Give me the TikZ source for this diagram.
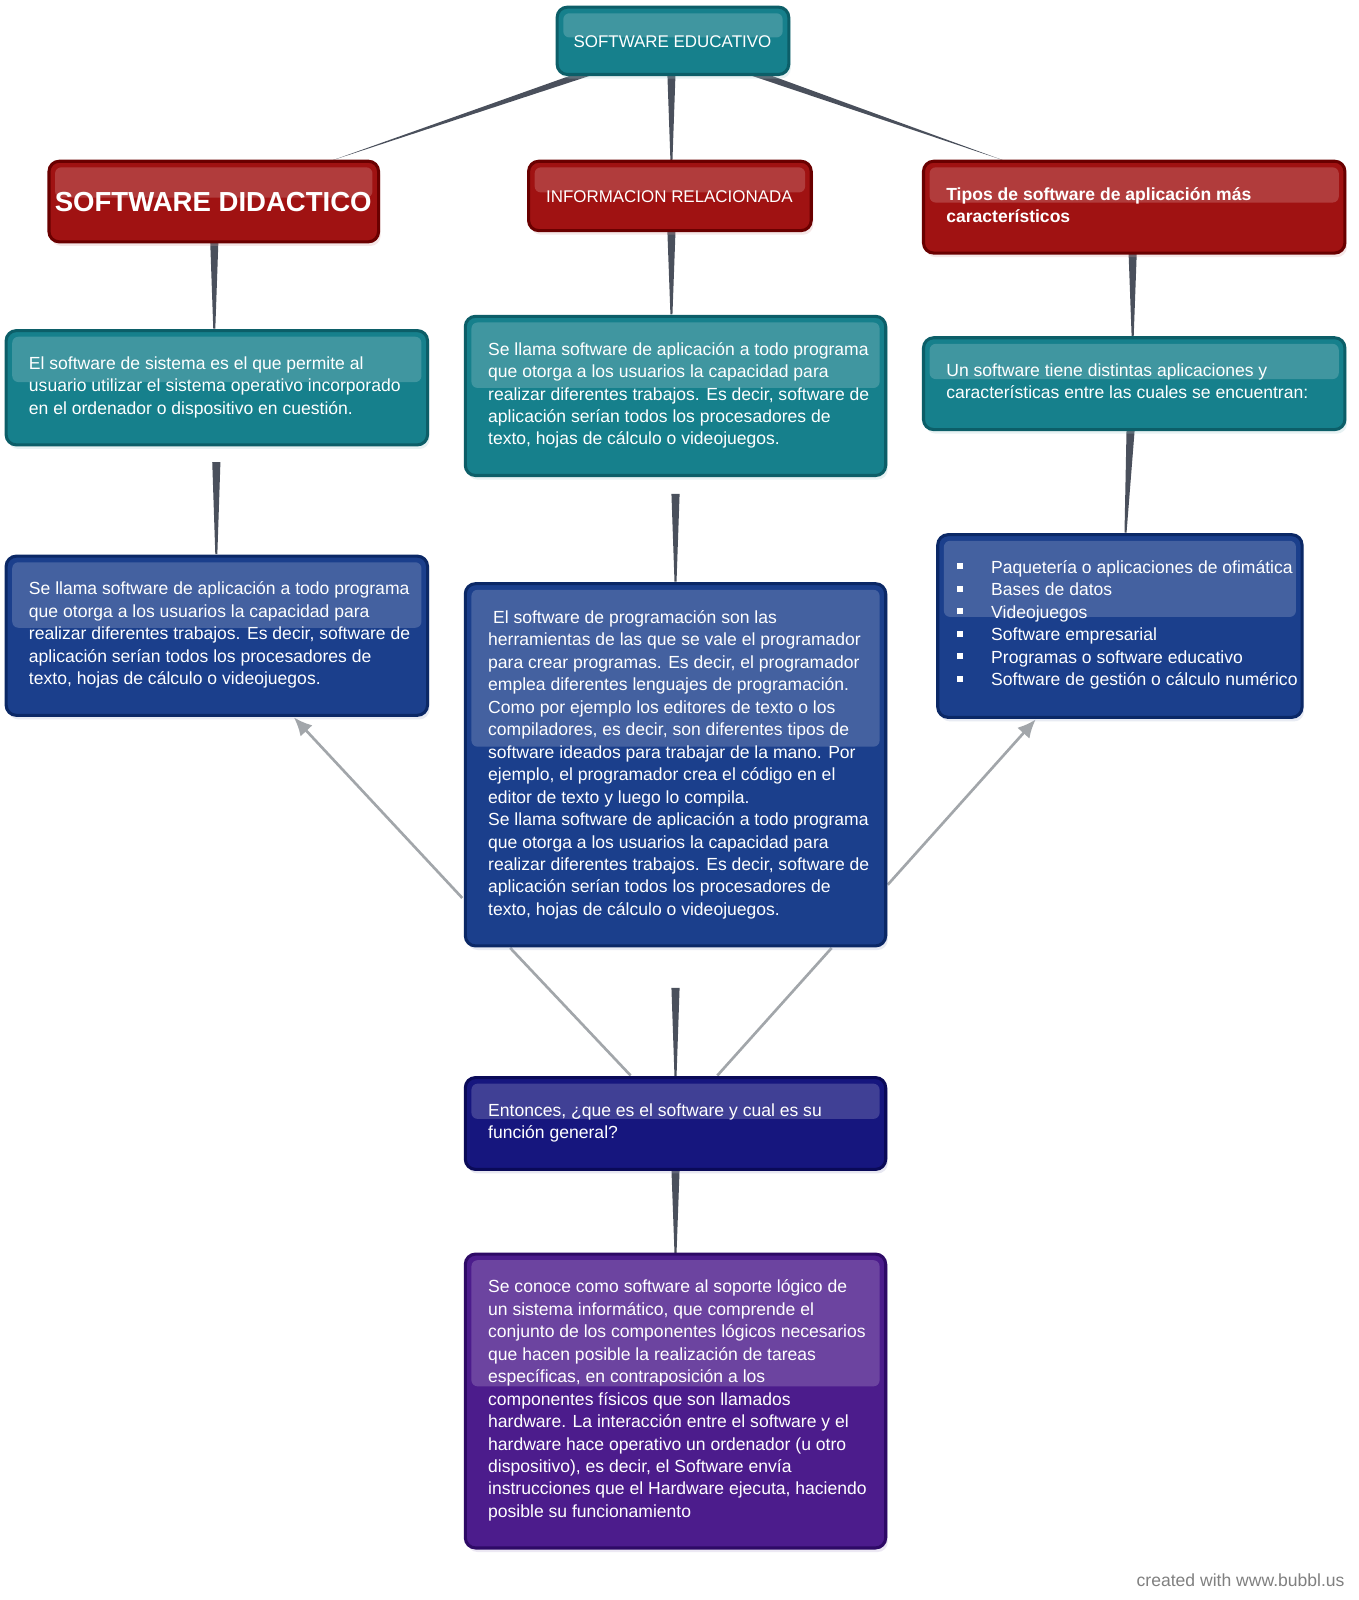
\documentclass[tikz,border=0pt]{standalone}
\usepackage{fontspec}
\setmainfont{Liberation Sans}
\usetikzlibrary{arrows.meta}
\definecolor{tealc}{HTML}{16808C}\definecolor{tealb}{HTML}{0C5E68}
\definecolor{redc}{HTML}{A01212}\definecolor{redb}{HTML}{6A0000}
\definecolor{bluec}{HTML}{1B3F8C}\definecolor{blueb}{HTML}{0B2866}
\definecolor{navyc}{HTML}{16167E}\definecolor{navyb}{HTML}{0A0A58}
\definecolor{purc}{HTML}{4C1C8C}\definecolor{purb}{HTML}{2E0A66}
\definecolor{wedge}{HTML}{4A505C}\definecolor{arr}{HTML}{A2A6AA}
\newcommand{\bx}[6]{% name, x1,y1,x2,y2, color
  \fill[#6c!40!white,opacity=0.25,rounded corners=5pt] (#2+2,#3+4) rectangle (#4+2,#5+4);
  \draw[line width=1.5pt,draw=#6b,fill=#6c,rounded corners=5pt] (#2,#3) rectangle (#4,#5);
  \fill[white,opacity=0.18,rounded corners=3pt] (#2+6,#3+6) rectangle (#4-6,{#3+(#5-#3)*0.45});
  \coordinate (#1) at ({(#2+#4)/2},#3);}
\newcommand{\wedg}[4]{\fill[wedge] (#1-4,#2) -- (#1+4,#2) -- (#3+1,#4) -- (#3-1,#4) -- cycle;}
\newcommand{\bul}{\rule[2pt]{3pt}{3pt}\hspace{14pt}}
\tikzset{tx/.style={anchor=north west,text=white,font=\fontsize{8.6}{11}\selectfont,align=left,inner sep=0pt}}
\begin{document}
\begin{tikzpicture}[x=0.5pt,y=-0.5pt]
\useasboundingbox (0,0) rectangle (1331,1568);
\fill[white] (0,0) rectangle (1331,1568);
% connectors
\fill[wedge] (565,72) -- (585,72) -- (326,157) -- cycle;
\wedg{658}{72}{658}{157}
\fill[wedge] (730,72) -- (750,72) -- (983,157) -- cycle;
\wedg{210}{237}{210}{322}
\wedg{658}{226}{658}{308}
\wedg{1110}{248}{1110}{330}
\wedg{212}{453}{212}{543}
\wedg{662}{484}{662}{570}
\wedg{1108}{421}{1103}{522}
\wedg{662}{968}{662}{1055}
\wedg{662}{1146}{662}{1228}
\draw[arr,line width=1.3pt,-{Latex[length=9pt,width=8pt]}] (453,880) -- (288,703);
\draw[arr,line width=1.3pt,-{Latex[length=9pt,width=8pt]}] (870,867) -- (1015,705);
\draw[arr,line width=1.3pt] (500,929) -- (618,1054);
\draw[arr,line width=1.3pt] (815,929) -- (703,1054);
% boxes
\bx{se}{546}{7}{773}{73}{teal}
\node[tx,anchor=center,font=\fontsize{8.3}{10}\selectfont] (set) at (659,41) {SOFTWARE EDUCATIVO};
\bx{sd}{48}{158}{371}{237}{red}
\node[tx,anchor=center,font=\fontsize{13.5}{15}\selectfont\bfseries] (sdt) at (209,198) {SOFTWARE DIDACTICO};
\bx{ir}{518}{158}{795}{226}{red}
\node[tx,anchor=center,font=\fontsize{8.3}{10}\selectfont] (irt) at (656,193) {INFORMACION RELACIONADA};
\bx{ti}{905}{158}{1318}{248}{red}
\node[tx,font=\fontsize{8.6}{11}\selectfont\bfseries] (tit) at (927,183) {Tipos de software de aplicación más\\característicos};
\bx{t1}{6}{324}{419}{436}{teal}
\node[tx] (t1t) at (28,349) {El software de sistema es el que permite al\\usuario utilizar el sistema operativo incorporado\\en el ordenador o dispositivo en cuestión.};
\bx{t2}{456}{310}{868}{466}{teal}
\node[tx] (t2t) at (478,335) {Se llama software de aplicación a todo programa\\que otorga a los usuarios la capacidad para\\realizar diferentes trabajos. Es decir, software de\\aplicación serían todos los procesadores de\\texto, hojas de cálculo o videojuegos.};
\bx{t3}{905}{331}{1318}{421}{teal}
\node[tx] (t3t) at (927,356) {Un software tiene distintas aplicaciones y\\características entre las cuales se encuentran:};
\bx{b1}{6}{545}{419}{701}{blue}
\node[tx] (b1t) at (28,570) {Se llama software de aplicación a todo programa\\que otorga a los usuarios la capacidad para\\realizar diferentes trabajos. Es decir, software de\\aplicación serían todos los procesadores de\\texto, hojas de cálculo o videojuegos.};
\bx{b2}{456}{572}{868}{927}{blue}
\node[tx] (b2t) at (478,598) {\ El software de programación son las\\herramientas de las que se vale el programador\\para crear programas. Es decir, el programador\\emplea diferentes lenguajes de programación.\\Como por ejemplo los editores de texto o los\\compiladores, es decir, son diferentes tipos de\\software ideados para trabajar de la mano. Por\\ejemplo, el programador crea el código en el\\editor de texto y luego lo compila.\\Se llama software de aplicación a todo programa\\que otorga a los usuarios la capacidad para\\realizar diferentes trabajos. Es decir, software de\\aplicación serían todos los procesadores de\\texto, hojas de cálculo o videojuegos.};
\bx{b3}{919}{524}{1276}{703}{blue}
\node[tx] (b3t) at (937,549) {\bul Paquetería o aplicaciones de ofimática\\\bul Bases de datos\\\bul Videojuegos\\\bul Software empresarial\\\bul Programas o software educativo\\\bul Software de gestión o cálculo numérico};
\bx{q}{456}{1056}{868}{1146}{navy}
\node[tx] (qt) at (478,1081) {Entonces, ¿que es el software y cual es su\\función general?};
\bx{p}{456}{1229}{868}{1517}{pur}
\node[tx] (pt) at (478,1254) {Se conoce como software al soporte lógico de\\un sistema informático, que comprende el\\conjunto de los componentes lógicos necesarios\\que hacen posible la realización de tareas\\específicas, en contraposición a los\\componentes físicos que son llamados\\hardware. La interacción entre el software y el\\hardware hace operativo un ordenador (u otro\\dispositivo), es decir, el Software envía\\instrucciones que el Hardware ejecuta, haciendo\\posible su funcionamiento};
\node[anchor=south east,inner sep=0pt,text=gray,font=\fontsize{8.6}{10}\selectfont] (cr) at (1318,1555) {created with www.bubbl.us};
\end{tikzpicture}
\end{document}
